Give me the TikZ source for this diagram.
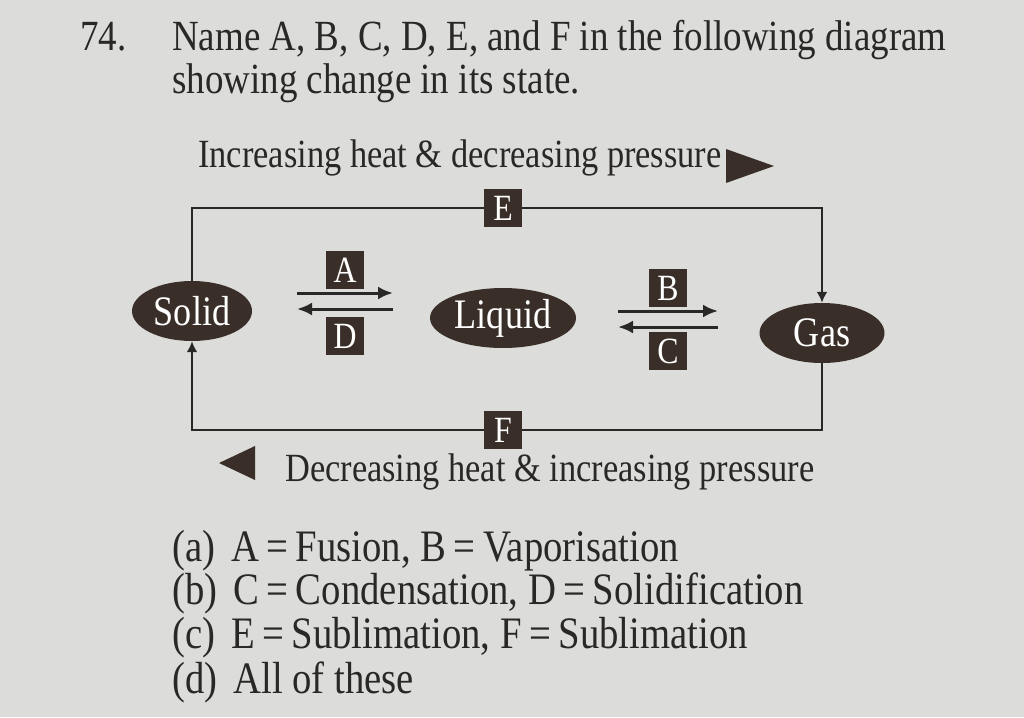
\documentclass[tikz,border=0pt]{standalone}
\usepackage{fontspec}
\setmainfont{Liberation Serif}[FakeStretch=0.86]
\usetikzlibrary{shapes.geometric,arrows.meta}

\definecolor{paper}{HTML}{DCDCDA}
\definecolor{ink}{HTML}{2A2826}
\definecolor{statefill}{HTML}{3A2F28}

\tikzset{
  state/.style={ellipse, fill=statefill, text=white, minimum height=60pt, inner sep=0pt,
    font=\fontsize{42}{42}\selectfont},
  letterbox/.style={fill=statefill, text=white, minimum size=38pt, inner sep=0pt,
    font=\fontsize{37}{37}\selectfont},
  txt/.style={anchor=base west, text=ink, inner sep=0pt, font=\fontsize{43}{43}\selectfont},
  opt/.style={anchor=base west, text=ink, inner sep=0pt, font=\fontsize{45}{45}\selectfont},
  frame/.style={draw=ink, line width=2.9pt},
  change/.style={draw=ink, line width=3pt, -{Latex[length=15pt,width=13pt]}},
}

\begin{document}
\begin{tikzpicture}[x=1pt,y=-1pt]
  \fill[paper] (0,0) rectangle (1024,717);
  \useasboundingbox (0,0) rectangle (1024,717);

  % question
  \node[txt] (qno) at (80,50) {74.};
  \node[txt] (q1) at (172,50) {Name A, B, C, D, E, and F in the following diagram};
  \node[txt] (q2) at (172,93) {showing change in its state.};

  % direction of heating
  \node[txt, font=\fontsize{40}{40}\selectfont] (up) at (198,167) {Increasing heat \& decreasing pressure};
  \fill[statefill] (726,149) -- (774,166) -- (726,183) -- cycle;

  % the three states
  \node[state, minimum width=120pt] (solid) at (192,311) {Solid};
  \node[state, minimum width=146pt] (liquid) at (503,318) {Liquid};
  \node[state, minimum width=125pt] (gas) at (822,333) {Gas};

  % labels
  \node[letterbox] (E) at (503,208) {E};
  \node[letterbox] (F) at (503,430) {F};
  \node[letterbox] (A) at (345,270) {A};
  \node[letterbox] (D) at (345,336) {D};
  \node[letterbox] (B) at (668,288) {B};
  \node[letterbox] (C) at (668,351) {C};

  % solid <-> liquid <-> gas
  \coordinate (sl1) at (297,293);
  \coordinate (sl2) at (393,293);
  \coordinate (sl3) at (297,309);
  \coordinate (sl4) at (393,309);
  \draw[change] (sl1) -- (sl2);
  \draw[change] (sl4) -- (sl3);
  \coordinate (lg1) at (618,311);
  \coordinate (lg2) at (718,311);
  \coordinate (lg3) at (618,327);
  \coordinate (lg4) at (718,327);
  \draw[change] (lg1) -- (lg2);
  \draw[change] (lg4) -- (lg3);

  % solid <-> gas
  \draw[frame] (solid.north) |- (E.west);
  \draw[frame, -{Latex[length=11pt,width=11pt]}] (E.east) -| (gas.north);
  \draw[frame] (gas.south) |- (F.east);
  \draw[frame, -{Latex[length=11pt,width=11pt]}] (F.west) -| (solid.south);

  % direction of cooling
  \fill[statefill] (255,446) -- (219,463) -- (255,480) -- cycle;
  \node[txt, font=\fontsize{40}{40}\selectfont] (down) at (285,481) {Decreasing heat \& increasing pressure};

  % options
  \node[opt] (oa) at (172,561) {(a)\hspace{16pt}A\,=\,Fusion, B\,=\,Vaporisation};
  \node[opt] (ob) at (172,604) {(b)\hspace{16pt}C\,=\,Condensation, D\,=\,Solidification};
  \node[opt] (oc) at (172,648) {(c)\hspace{16pt}E\,=\,Sublimation, F\,=\,Sublimation};
  \node[opt] (od) at (172,693) {(d)\hspace{16pt}All of these};
\end{tikzpicture}
\end{document}
